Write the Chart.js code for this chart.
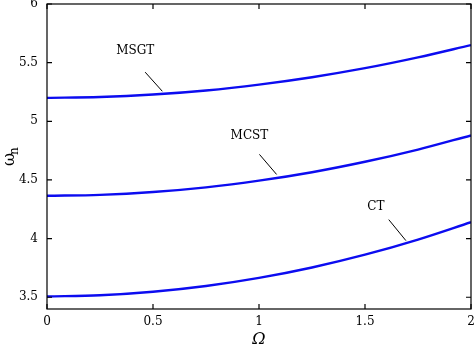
<!DOCTYPE html>
<html lang="en">
<head>
  <meta charset="UTF-8" />
  <title>Natural frequency vs rotation speed</title>
  <script src="https://cdn.jsdelivr.net/npm/chart.js"></script>
  <style>
    html, body { margin: 0; padding: 0; background: #fff; }
    #wrap { width: 474px; height: 344px; }
  </style>
</head>
<body>
  <div id="wrap"><canvas id="freqChart" width="474" height="344"></canvas></div>

  <script>
    // rotation speed values (x)
    const omegaRot = [0, 0.25, 0.5, 0.75, 1, 1.25, 1.5, 1.75, 2];
    // natural frequency per theory
    const msgt = [5.200, 5.207, 5.228, 5.263, 5.313, 5.376, 5.453, 5.545, 5.650];
    const mcst = [4.365, 4.373, 4.397, 4.437, 4.494, 4.566, 4.655, 4.759, 4.880];
    const ct   = [3.507, 3.517, 3.547, 3.596, 3.665, 3.754, 3.863, 3.992, 4.140];
    const xTicks = [0, 0.5, 1, 1.5, 2];
    const yTicks = [3.5, 4, 4.5, 5, 5.5, 6];

    // curve names with text anchor and leader line (data coords)
    const curveLabels = [
      { text: "MSGT", at: [0.416, 5.598], from: [0.463, 5.419], to: [0.544, 5.256] },
      { text: "MCST", at: [0.955, 4.880], from: [1.002, 4.718], to: [1.083, 4.547] },
      { text: "CT",   at: [1.551, 4.267], from: [1.612, 4.162], to: [1.693, 3.983] }
    ];

    const serif = "'DejaVu Serif', 'Liberation Serif', serif";
    const lineBlue = "#0c0cf0";

    function toPoints(ys) {
      return omegaRot.map((x, i) => ({ x: x, y: ys[i] }));
    }

    function series(ys) {
      return {
        data: toPoints(ys),
        borderColor: lineBlue,
        borderWidth: 2.4,
        pointRadius: 0,
        fill: false,
        cubicInterpolationMode: "monotone"
      };
    }

    // box, inward ticks, annotations and axis titles
    const frame = {
      id: "frame",
      afterDraw(chart) {
        const ctx = chart.ctx;
        const a = chart.chartArea;
        const xs = chart.scales.x, ys = chart.scales.y;
        const tick = 5;
        ctx.save();
        ctx.strokeStyle = "#000";
        ctx.lineWidth = 1.2;
        ctx.strokeRect(a.left, a.top, a.right - a.left, a.bottom - a.top);
        ctx.beginPath();
        xTicks.forEach(v => {
          const px = xs.getPixelForValue(v);
          ctx.moveTo(px, a.bottom); ctx.lineTo(px, a.bottom - tick);
          ctx.moveTo(px, a.top); ctx.lineTo(px, a.top + tick);
        });
        yTicks.forEach(v => {
          const py = ys.getPixelForValue(v);
          ctx.moveTo(a.left, py); ctx.lineTo(a.left + tick, py);
          ctx.moveTo(a.right, py); ctx.lineTo(a.right - tick, py);
        });
        ctx.stroke();

        // curve labels
        ctx.fillStyle = "#000";
        ctx.font = "12px " + serif;
        ctx.textAlign = "center";
        ctx.textBaseline = "middle";
        ctx.lineWidth = 1;
        curveLabels.forEach(l => {
          ctx.fillText(l.text, xs.getPixelForValue(l.at[0]), ys.getPixelForValue(l.at[1]));
          ctx.beginPath();
          ctx.moveTo(xs.getPixelForValue(l.from[0]), ys.getPixelForValue(l.from[1]));
          ctx.lineTo(xs.getPixelForValue(l.to[0]), ys.getPixelForValue(l.to[1]));
          ctx.stroke();
        });

        // y title: omega with subscript n
        ctx.save();
        ctx.translate(10, 160);
        ctx.rotate(-Math.PI / 2);
        ctx.textAlign = "left";
        ctx.textBaseline = "middle";
        ctx.font = "16px " + serif;
        ctx.fillText("ω", -6, 0);
        ctx.font = "12px " + serif;
        ctx.fillText("n", 5, 5);
        ctx.restore();

        // x title
        ctx.font = "italic 16px " + serif;
        ctx.textAlign = "center";
        ctx.textBaseline = "middle";
        ctx.fillText("Ω", (a.left + a.right) / 2, 340);
        ctx.restore();
      }
    };

    new Chart(document.getElementById("freqChart"), {
      type: "line",
      data: { datasets: [series(msgt), series(mcst), series(ct)] },
      options: {
        responsive: false,
        animation: false,
        layout: { padding: { top: 4, right: 3, left: 0, bottom: 0 } },
        plugins: { legend: { display: false }, tooltip: { enabled: false } },
        scales: {
          x: {
            type: "linear",
            min: 0,
            max: 2,
            grid: { display: false, drawTicks: false },
            border: { display: false },
            afterBuildTicks: s => { s.ticks = xTicks.map(v => ({ value: v })); },
            afterFit: s => { s.height = 35; s.paddingLeft = 0; s.paddingRight = 0; },
            ticks: {
              color: "#000",
              padding: 6,
              font: { family: serif, size: 12 },
              callback: v => String(v)
            }
          },
          y: {
            type: "linear",
            min: 3.4,
            max: 6,
            grid: { display: false, drawTicks: false },
            border: { display: false },
            afterBuildTicks: s => { s.ticks = yTicks.map(v => ({ value: v })); },
            afterFit: s => { s.width = 47; s.paddingTop = 0; s.paddingBottom = 0; },
            ticks: {
              color: "#000",
              padding: 9,
              font: { family: serif, size: 12 },
              callback: v => String(v)
            }
          }
        }
      },
      plugins: [frame]
    });
  </script>
</body>
</html>
